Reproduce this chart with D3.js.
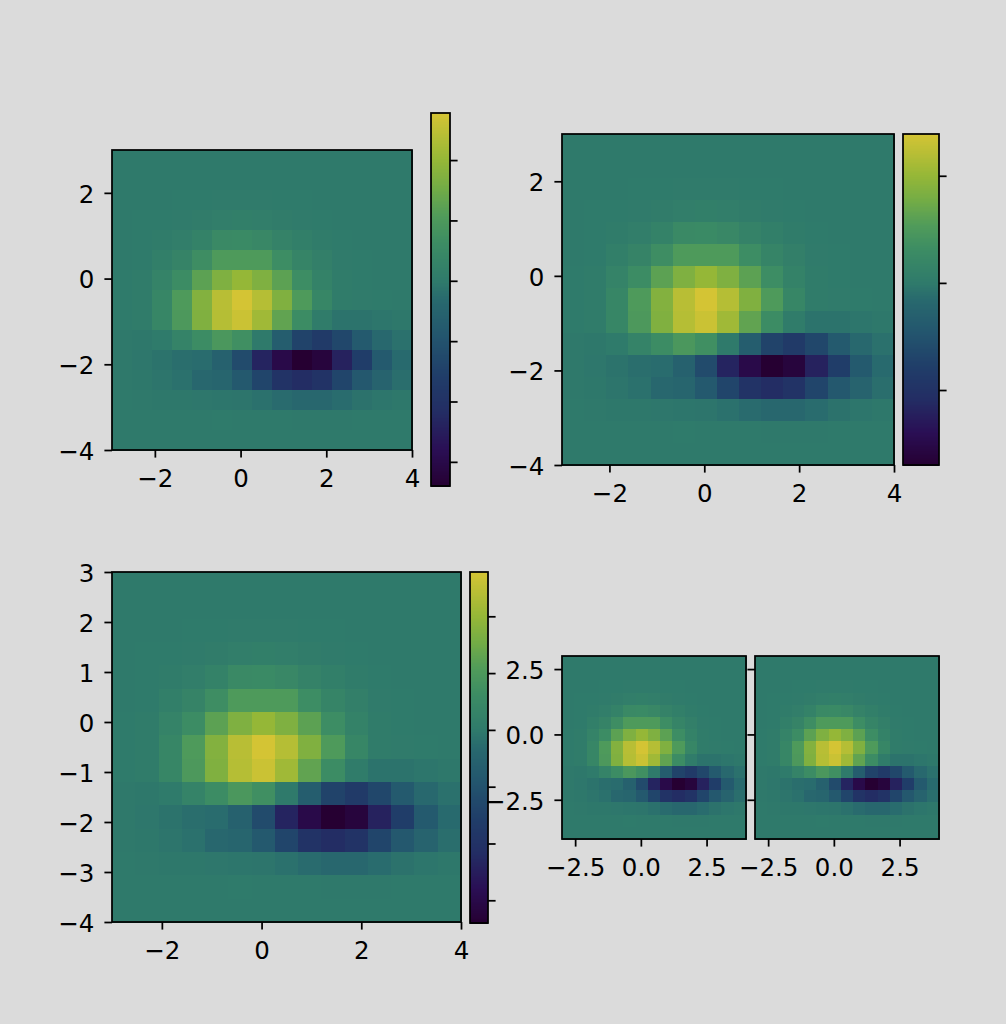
<!DOCTYPE html>
<html><head><meta charset="utf-8">
<script src="https://cdn.jsdelivr.net/npm/d3@7"></script>
<style>html,body{margin:0;padding:0;background:#dbdbdb}svg{display:block}
text{font-family:"DejaVu Sans";fill:#000}</style></head><body>
<script>
// heat values, top row first
const row00=[0,0,0,0,0,0,0,0,0,0,0,0,0,0,0];
const row01=[0,0,0,0,0,0,0.005,0.005,0.005,0,0,0,0,0,0];
const row02=[0,0,0.005,0.01,0.01,0.02,0.02,0.02,0.01,0.01,0,0,0,0,0];
const row03=[0,0.01,0.01,0.02,0.04,0.06,0.08,0.06,0.04,0.02,0.01,0,0,0,0];
const row04=[0,0.01,0.03,0.06,0.13,0.26,0.27,0.23,0.14,0.08,0.03,0.01,0,0,0];
const row05=[0,0.01,0.08,0.16,0.33,0.52,0.52,0.52,0.32,0.17,0.09,0.02,0.01,0,0];
const row06=[0.01,0.03,0.15,0.30,0.62,0.85,1.00,0.85,0.62,0.32,0.13,0.03,0.01,0,0];
const row07=[0.01,0.03,0.20,0.52,0.88,1.22,1.39,1.20,0.86,0.52,0.20,0.03,0.02,0.01,0];
const row08=[0.01,0.03,0.20,0.50,0.86,1.20,1.33,1.07,0.65,0.30,0.03,-0.06,-0.06,-0.04,-0.02];
const row09=[-0.01,-0.02,0.01,0.15,0.30,0.48,0.35,0,-0.34,-0.70,-0.85,-0.65,-0.38,-0.17,-0.08];
const row10=[-0.01,-0.03,-0.06,-0.11,-0.13,-0.28,-0.60,-1.17,-1.50,-1.70,-1.60,-1.20,-0.80,-0.38,-0.15];
const row11=[-0.01,-0.02,-0.05,-0.08,-0.18,-0.21,-0.40,-0.68,-0.98,-1.08,-0.98,-0.68,-0.42,-0.24,-0.11];
const row12=[0,-0.01,-0.015,-0.02,-0.03,-0.04,-0.05,-0.08,-0.14,-0.18,-0.18,-0.13,-0.07,-0.04,-0.02];
const row13=[0,0,-0.005,-0.005,0.005,0.01,0,0.005,-0.005,-0.01,-0.01,-0.01,-0.005,0,0];
const row14=[0,0,0,0,0,0,0,0,0,0,0,0,0,0,0];
const rows=[row00,row01,row02,row03,row04,row05,row06,row07,row08,row09,row10,row11,row12,row13,row14];

const xDomain=[-3,4], yDomain=[-4,3];
const vMin=-1.70, vMax=1.39;
const evenTicks=[-2,0,2,4], evenYTicks=[-4,-2,0,2], unitYTicks=[-4,-3,-2,-1,0,1,2,3], halfTicks=[-2.5,0,2.5];
const barFine=[-1.5,-1,-0.5,0,0.5,1], barCoarse=[-1,0,1];

// colour ramp sampled from the colour bars
const rampPos=[0,0.1,0.2,0.3,0.4,0.5,0.55,0.65,0.725,0.8,0.876,1];
const rampCol=["#260032","#2a0f55","#232d64","#203e69","#23556e","#28696e","#2f7a6b","#3c8c64","#509b5a","#73ac46","#96b737","#d4c434"];
const W=1006,H=1024,FS=24.5,TL=7.6,SW=1.75;
const ramp=d3.scaleLinear().domain(rampPos.map(p=>vMin+p*(vMax-vMin))).range(rampCol).interpolate(d3.interpolateRgb);

const svg=d3.select("body").append("svg").attr("width",W).attr("height",H);
const fmt=d=>{const a=Math.abs(d);const s=Number.isInteger(d)&&!halfMode?String(a):a.toFixed(1);return (d<0?"\u2212":"")+s;};
let halfMode=false;

function styleAxis(g,labels){
  g.select(".domain").remove();
  g.selectAll(".tick line").attr("stroke","#000").attr("stroke-width",SW);
  g.selectAll(".tick text").attr("font-size",FS).attr("font-family","DejaVu Sans").attr("fill","#000");
  if(!labels) g.selectAll(".tick text").remove();
}
function heat(box,xt,yt,opt){
  opt=opt||{};
  const g=svg.append("g");
  const x=d3.scaleLinear().domain(xDomain).range([box.x0,box.x1]);
  const y=d3.scaleLinear().domain(yDomain).range([box.y1,box.y0]);
  const cx=d3.scaleBand().domain(d3.range(15)).range([box.x0,box.x1]);
  const cy=d3.scaleBand().domain(d3.range(15)).range([box.y0,box.y1]);
  rows.forEach((r,ri)=>{
    g.selectAll(null).data(r).enter().append("rect")
      .attr("x",(d,i)=>cx(i)).attr("y",cy(ri))
      .attr("width",cx.bandwidth()+0.6).attr("height",cy.bandwidth()+0.6)
      .attr("shape-rendering","crispEdges").attr("fill",d=>ramp(d));
  });
  halfMode=!!opt.half;
  const ax=g.append("g").attr("transform",`translate(0,${box.y1})`)
    .call(d3.axisBottom(x).tickValues(xt).tickSize(TL).tickPadding(12).tickFormat(fmt));
  styleAxis(ax,true);
  const ay=g.append("g").attr("transform",`translate(${box.x0},0)`)
    .call(d3.axisLeft(y).tickValues(yt).tickSize(TL).tickPadding(10).tickFormat(fmt));
  styleAxis(ay,!opt.noY);
  ay.selectAll(".tick text").attr("dy","0.38em");
  g.append("rect").attr("x",box.x0).attr("y",box.y0).attr("width",box.x1-box.x0).attr("height",box.y1-box.y0)
    .attr("fill","none").attr("stroke","#000").attr("stroke-width",SW);
}
function bar(box,ticks){
  const g=svg.append("g");
  const v=d3.scaleLinear().domain([vMin,vMax]).range([box.y1,box.y0]);
  const steps=d3.range(256).map(i=>vMin+(i+0.5)/256*(vMax-vMin));
  const h=(box.y1-box.y0)/256;
  g.selectAll(null).data(steps).enter().append("rect")
    .attr("x",box.x0).attr("width",box.x1-box.x0)
    .attr("y",d=>v(d)-h/2).attr("height",h+0.6)
    .attr("shape-rendering","crispEdges").attr("fill",d=>ramp(d));
  const a=g.append("g").attr("transform",`translate(${box.x1},0)`)
    .call(d3.axisRight(v).tickValues(ticks).tickSize(TL));
  styleAxis(a,false);
  g.append("rect").attr("x",box.x0).attr("y",box.y0).attr("width",box.x1-box.x0).attr("height",box.y1-box.y0)
    .attr("fill","none").attr("stroke","#000").attr("stroke-width",SW);
}
heat({x0:112,x1:412,y0:150,y1:450},evenTicks,evenYTicks);
bar({x0:431,x1:450,y0:113,y1:486},barFine);
heat({x0:562,x1:894,y0:134,y1:465},evenTicks,evenYTicks);
bar({x0:903,x1:939,y0:134,y1:465},barCoarse);
heat({x0:112,x1:461,y0:572,y1:922},evenTicks,unitYTicks);
bar({x0:470,x1:488,y0:572,y1:923},barFine);
heat({x0:562,x1:746,y0:656,y1:839},halfTicks,halfTicks,{half:true});
heat({x0:755,x1:939,y0:656,y1:839},halfTicks,halfTicks,{half:true,noY:true});
</script></body></html>
